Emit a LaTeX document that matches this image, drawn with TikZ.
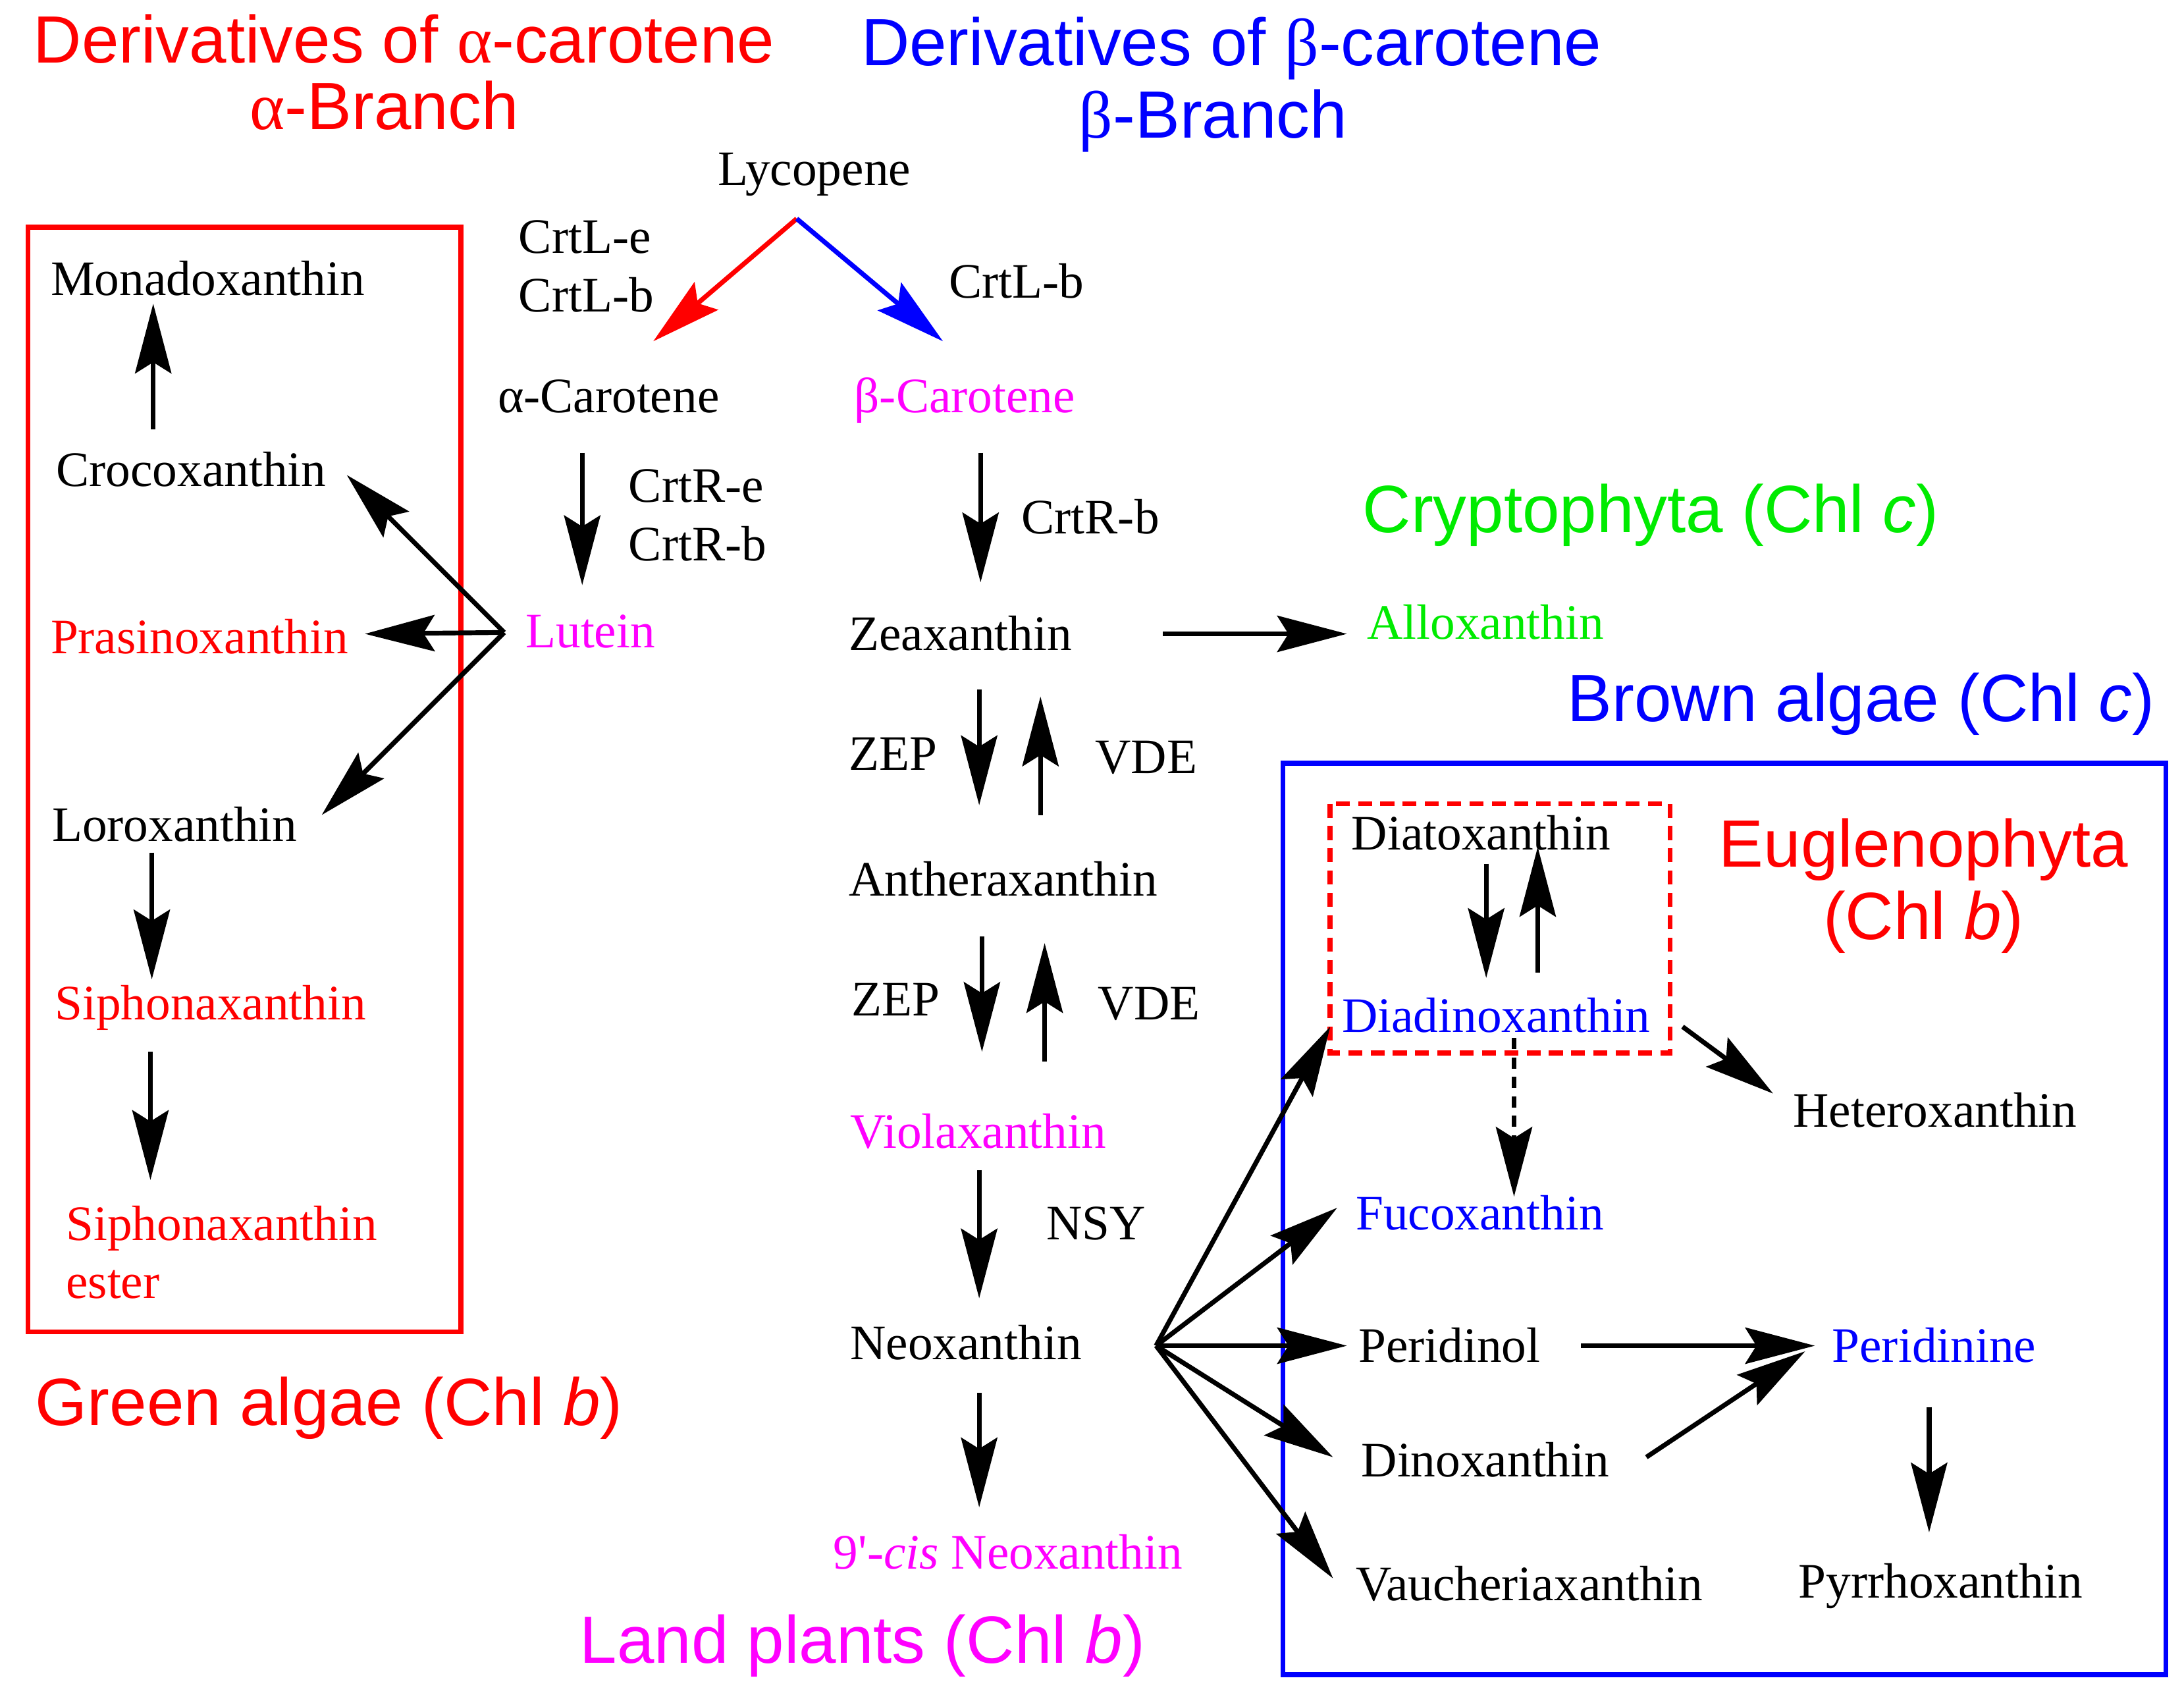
\documentclass[tikz,border=0pt]{standalone}
\usepackage{fontspec}
\setmainfont{Liberation Serif}
\setsansfont{Liberation Sans}
\usepackage{tikz}
\usetikzlibrary{arrows.meta,calc}
\definecolor{alphared}{RGB}{255,0,0}
\definecolor{betablue}{RGB}{0,0,255}
\definecolor{landmag}{RGB}{255,0,255}
\definecolor{cryptogreen}{RGB}{0,235,0}

\begin{document}
\begin{tikzpicture}[x=0.5pt,y=0.5pt,yscale=-1,xscale=1,
    pig/.style={font=\fontsize{17.8}{21}\selectfont, inner sep=0pt, anchor=base west},
    grp/.style={font=\sffamily\fontsize{24}{26}\selectfont, inner sep=0pt, anchor=base west},
    rxn/.style={line width=1.7pt, -{Stealth[length=25pt,width=13pt,inset=4pt]}},
    group box/.style={line width=1.8pt}]
\useasboundingbox (0,0) rectangle (1568,1219.3);

% titles
\node[grp, anchor=base, alphared] (atitle) at (290,45) {Derivatives of {\rmfamily α}-carotene};
\node[grp, anchor=base, alphared] (abranch) at (276,93) {{\rmfamily α}-Branch};
\node[grp, anchor=base, betablue] (btitle) at (884,47) {Derivatives of {\rmfamily β}-carotene};
\node[grp, anchor=base, betablue] (bbranch) at (871,99) {{\rmfamily β}-Branch};

% boxes
\draw[group box, alphared] (20,163) rectangle (331,956);
\draw[group box, betablue] (921,548) rectangle (1555,1202);
\draw[group box, alphared, dash pattern=on 5pt off 3pt] (955,577) rectangle (1199,756);

% main trunk
\node[pig] (lyc) at (515,133) {Lycopene};
\node[pig] (acar) at (357,296) {α-Carotene};
\node[pig, landmag] (bcar) at (613,296) {β-Carotene};
\node[pig] (lut) at (377,465) {\textcolor{landmag}{Lutein}};
\node[pig] (zea) at (609,467) {Zeaxanthin};
\node[pig, cryptogreen] (allo) at (981,459) {Alloxanthin};
\node[pig] (anth) at (609,643) {Antheraxanthin};
\node[pig, landmag] (viola) at (610,824) {Violaxanthin};
\node[pig] (neo) at (610,976) {Neoxanthin};
\node[pig, landmag] (cisneo) at (598,1126) {9\textquotesingle-\textit{cis} Neoxanthin};

% enzymes
\node[pig, anchor=west, align=left] (crtl) at (372,191) {CrtL-e\\CrtL-b};
\node[pig] (crtlb) at (681,214) {CrtL-b};
\node[pig, anchor=west, align=left] (crtr) at (451,370) {CrtR-e\\CrtR-b};
\node[pig] (crtrb) at (733,383) {CrtR-b};
\node[pig] (zep1) at (609,553) {ZEP};
\node[pig] (vde1) at (786,555) {VDE};
\node[pig] (zep2) at (611,729) {ZEP};
\node[pig] (vde2) at (788,732) {VDE};
\node[pig] (nsy) at (751,890) {NSY};

% green algae
\node[pig] (mona) at (36,212) {Monadoxanthin};
\node[pig] (croco) at (40,349) {Crocoxanthin};
\node[pig, alphared] (prasino) at (36,469) {Prasinoxanthin};
\node[pig] (loro) at (37,604) {Loroxanthin};
\node[pig, alphared] (sipho) at (39,732) {Siphonaxanthin};
\node[pig, alphared, anchor=west, align=left] (siphoest) at (47,899) {Siphonaxanthin\\ester};

% brown algae
\node[pig] (diato) at (970,610) {Diatoxanthin};
\node[pig, betablue] (diadino) at (963,741) {Diadinoxanthin};
\node[pig] (hetero) at (1287,809) {Heteroxanthin};
\node[pig, betablue] (fuco) at (973,883) {Fucoxanthin};
\node[pig] (peridinol) at (975,978) {Peridinol};
\node[pig, betablue] (peridinine) at (1315,978) {Peridinine};
\node[pig] (dino) at (977,1060) {Dinoxanthin};
\node[pig] (vauch) at (973,1149) {Vaucheriaxanthin};
\node[pig] (pyrrho) at (1291,1147) {Pyrrhoxanthin};

% groups
\node[grp, cryptogreen] (crypto) at (978,382) {Cryptophyta (Chl \textit{c})};
\node[grp, betablue] (brown) at (1125,518) {Brown algae (Chl \textit{c})};
\node[grp, alphared, anchor=center, align=center] (eugleno) at (1381,636) {Euglenophyta\\(Chl \textit{b})};
\node[grp, alphared] (green) at (25,1023) {Green algae (Chl \textit{b})};
\node[grp, landmag] (land) at (416,1194) {Land plants (Chl \textit{b})};

% lycopene split
\coordinate (lycfork) at ($(lyc.base west)+(57,24)$);
\draw[rxn, alphared] (lycfork) -- ($(acar.base west)+(112,-51)$);
\draw[rxn, betablue] (lycfork) -- ($(bcar.base west)+(64,-51)$);

% beta branch
\draw[rxn] ($(acar.base west)+(61,29)$) -- ($(lut.base west)+(41,-45)$);
\draw[rxn] ($(bcar.base west)+(91,29)$) -- ($(zea.base west)+(95,-49)$);
\draw[rxn] ($(zea.base west)+(226,-12)$) -- ($(allo.base west)+(-14,-4)$);
\draw[rxn] ($(zea.base west)+(94,28)$) -- ($(anth.base west)+(94,-65)$);
\draw[rxn] ($(anth.base west)+(138,-58)$) -- ($(zea.base west)+(138,33)$);
\draw[rxn] ($(anth.base west)+(96,29)$) -- ($(viola.base west)+(95,-69)$);
\draw[rxn] ($(viola.base west)+(140,-62)$) -- ($(anth.base west)+(141,34)$);
\draw[rxn] ($(viola.base west)+(93,16)$) -- ($(neo.base west)+(93,-44)$);
\draw[rxn] ($(neo.base west)+(93,24)$) -- ($(cisneo.base west)+(105,-44)$);

% alpha branch
\draw[rxn] ($(croco.base west)+(70,-41)$) -- ($(mona.base west)+(74,6)$);
\coordinate (lutfork) at ($(lut.base west)+(-15,-11)$);
\draw[rxn] (lutfork) -- ($(croco.base west)+(209,-8)$);
\draw[rxn] (lutfork) -- ($(prasino.base west)+(226,-14)$);
\draw[rxn] (lutfork) -- ($(loro.base west)+(194,-19)$);
\draw[rxn] ($(loro.base west)+(72,8)$) -- ($(sipho.base west)+(70,-29)$);
\draw[rxn] ($(sipho.base west)+(69,23)$) -- ($(siphoest.west)+(61,-52)$);

% neoxanthin fan
\coordinate (neofork) at ($(neo.base west)+(220,-10)$);
\draw[rxn] (neofork) -- ($(diadino.base west)+(-8,-4)$);
\draw[rxn] (neofork) -- ($(fuco.base west)+(-13,-16)$);
\draw[rxn] (neofork) -- ($(peridinol.base west)+(-8,-12)$);
\draw[rxn] (neofork) -- ($(dino.base west)+(-20,-14)$);
\draw[rxn] (neofork) -- ($(vauch.base west)+(-16,-16)$);

% brown algae pathways
\draw[rxn] ($(diato.base west)+(97,10)$) -- ($(diadino.base west)+(104,-39)$);
\draw[rxn] ($(diadino.base west)+(141,-43)$) -- ($(diato.base west)+(134,-2)$);
\draw[rxn, dash pattern=on 4pt off 3pt] ($(diadino.base west)+(124,4)$) -- ($(fuco.base west)+(114,-24)$);
\draw[rxn] ($(diadino.base west)+(245,-4)$) -- ($(hetero.base west)+(-14,-24)$);
\draw[rxn] ($(peridinol.base west)+(160,-12)$) -- ($(peridinine.base west)+(-12,-12)$);
\draw[rxn] ($(dino.base west)+(205,-14)$) -- ($(peridinine.base west)+(-19,-8)$);
\draw[rxn] ($(peridinine.base west)+(70,32)$) -- ($(pyrrho.base west)+(94,-47)$);
\end{tikzpicture}
\end{document}
